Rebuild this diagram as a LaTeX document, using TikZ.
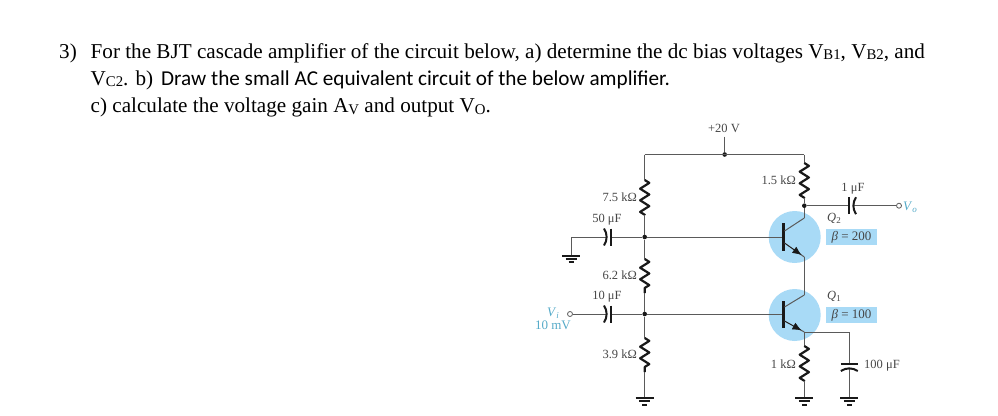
\documentclass[tikz,border=0pt]{standalone}
\usepackage{fontspec}
\setmainfont{Liberation Serif}
\newfontfamily\bodysans{Carlito}
\usetikzlibrary{arrows.meta,positioning,calc,decorations.pathmorphing}
\definecolor{wiregray}{RGB}{90,90,90}
\definecolor{labelgray}{RGB}{70,70,70}
\definecolor{partblack}{RGB}{25,25,25}
\definecolor{discblue}{RGB}{168,218,246}
\definecolor{signalblue}{RGB}{85,170,200}
\newcommand{\lowsub}[1]{\raisebox{-1.5pt}{\fontsize{14.8}{14.8}\selectfont #1}}
\tikzset{
    wire/.style={draw=wiregray, line width=1pt},
    resistor/.style={draw=partblack, line width=2.2pt, line join=round,
        decorate, decoration={zigzag, segment length=11.6pt, amplitude=4.6pt}},
    junction/.style={circle, fill=partblack, inner sep=0pt, minimum size=4.6pt},
    terminal/.style={circle, draw=wiregray, fill=white, line width=0.8pt, inner sep=0pt, minimum size=5pt},
    disc/.style={circle, fill=discblue, inner sep=0pt, minimum size=52pt},
    betabox/.style={fill=discblue, inner sep=0pt, minimum width=51pt, minimum height=16pt,
        text=labelgray, font=\fontsize{13}{14}\selectfont},
    partlabel/.style={text=labelgray, inner sep=0pt, font=\fontsize{12.5}{14}\selectfont},
    signallabel/.style={text=signalblue, inner sep=0pt, font=\fontsize{13}{14}\selectfont},
    bodyline/.style={anchor=base west, inner sep=0pt, text=black, font=\fontsize{21.15}{25}\selectfont},
    emitarrow/.style={draw=partblack, line width=0.6pt, -{Latex[length=9pt,width=7.5pt]}},
    ground/.pic={
        \draw[partblack, line width=2pt] (-9,0) -- (9,0);
        \draw[partblack, line width=2pt] (-5.5,3.4) -- (5.5,3.4);
        \draw[partblack, line width=2pt] (-2.5,6.6) -- (2.5,6.6);
    },
    capplates/.pic={
        \draw[partblack, line width=2pt] (0,-8.5) -- (0,8.5);
        \draw[partblack, line width=2pt] (-7,-8.5) .. controls (-3.5,-3) and (-3.5,3) .. (-7,8.5);
    },
}
\begin{document}
\begin{tikzpicture}[x=1pt, y=-1pt]
    \useasboundingbox (0,0) rectangle (998,415);

    % question text
    \node[bodyline] (qnum) at (59,58) {3)};
    \node[bodyline] (lineone) at (90.5,58) {For the BJT cascade amplifier of the circuit below, a) determine the dc bias voltages V\lowsub{B1}, V\lowsub{B2}, and};
    \node[bodyline] (linetwo) at (90.5,85) {V\lowsub{C2}. b)\hspace{8pt}{\bodysans\fontsize{21.2}{25}\selectfont Draw the small AC equivalent circuit of the below amplifier.}};
    \node[bodyline] (linethree) at (90.5,112.5) {c) calculate the voltage gain A\lowsub{V} and output V\lowsub{O}.};

    % transistor discs go under the wires
    \node[disc] (discQtwo) at (794.7,237) {};
    \node[disc] (discQone) at (794.7,315) {};

    % supply rail
    \coordinate (railL) at (644.7,154.5);
    \coordinate (railR) at (804.3,154.5);
    \coordinate (vccTop) at (724.7,136.5);
    \node[junction] (vcc) at (724.7,154.5) {};
    \node[partlabel] (vccLabel) at (724,128) {+20 V};
    \draw[wire] (vccTop) -- (vcc);
    \draw[wire] (railL) -- (railR);

    % base divider
    \coordinate (r75Top) at (644.7,180);
    \coordinate (r75Bot) at (644.7,215);
    \node[junction] (baseTwo) at (644.7,237) {};
    \coordinate (r62Top) at (644.7,259);
    \coordinate (r62Bot) at (644.7,293);
    \node[junction] (baseOne) at (644.7,314) {};
    \coordinate (r39Top) at (644.7,338);
    \coordinate (r39Bot) at (644.7,372);
    \coordinate (gndDiv) at (644.7,398);
    \draw[wire] (railL) -- (r75Top);
    \draw[resistor] (r75Top) -- (r75Bot);
    \draw[wire] (r75Bot) -- (baseTwo) -- (r62Top);
    \draw[resistor] (r62Top) -- (r62Bot);
    \draw[wire] (r62Bot) -- (baseOne) -- (r39Top);
    \draw[resistor] (r39Top) -- (r39Bot);
    \draw[wire] (r39Bot) -- (gndDiv);
    \pic at (gndDiv) {ground};
    \node[partlabel, anchor=east] (r75Label) at (637,197) {7.5 kΩ};
    \node[partlabel, anchor=east] (r62Label) at (637,275.5) {6.2 kΩ};
    \node[partlabel, anchor=east] (r39Label) at (637,354.5) {3.9 kΩ};

    % 50 uF bypass to ground
    \coordinate (gndBp) at (571,255.5);
    \coordinate (bpCorner) at (571,237);
    \coordinate (bpL) at (606.4,237);
    \coordinate (bpR) at (611,237);
    \draw[wire] (gndBp) -- (bpCorner) -- (bpL);
    \draw[wire] (bpR) -- (baseTwo);
    \pic at (bpR) {capplates};
    \pic at (gndBp) {ground};
    \node[partlabel] (bpLabel) at (607,220) {50 μF};

    % input
    \node[terminal] (vin) at (570,314) {};
    \coordinate (inL) at (606.4,314);
    \coordinate (inR) at (611,314);
    \draw[wire] (vin) -- (inL);
    \draw[wire] (inR) -- (baseOne);
    \pic at (inR) {capplates};
    \node[partlabel] (inLabel) at (607,297) {10 μF};
    \node[signallabel] (viLabel) at (553,313) {\textit{V}\raisebox{-2pt}{\fontsize{9}{9}\selectfont\textit{i}}};
    \node[signallabel] (mvLabel) at (553,325) {10 mV};

    % Q2
    \coordinate (Q2b) at (783.5,237);
    \coordinate (Q2c) at (804.3,218);
    \coordinate (Q2cIn) at (784.5,231);
    \coordinate (Q2eIn) at (784.5,243);
    \coordinate (Q2tip) at (801.5,255);
    \coordinate (Q2e) at (804.3,257);
    \draw[wire] (baseTwo) -- (Q2b);
    \draw[partblack, line width=3.4pt] (783.5,223) -- (783.5,251);
    \draw[wire] (Q2cIn) -- (Q2c);
    \draw[wire] (Q2eIn) -- (Q2e);
    \draw[emitarrow] (Q2eIn) -- (Q2tip);
    \node[partlabel] (Q2Label) at (834,218) {\textit{Q}\raisebox{-2pt}{\fontsize{9}{9}\selectfont 2}};
    \node[betabox] (Q2box) at (851.5,237) {\textit{β} = 200};

    % Q1
    \coordinate (Q1b) at (783.5,314);
    \coordinate (Q1c) at (804.3,295);
    \coordinate (Q1cIn) at (784.5,307);
    \coordinate (Q1eIn) at (784.5,321);
    \coordinate (Q1tip) at (801.5,330.4);
    \coordinate (Q1e) at (804.3,332);
    \draw[wire] (baseOne) -- (Q1b);
    \draw[partblack, line width=3.4pt] (783.5,301) -- (783.5,328);
    \draw[wire] (Q1cIn) -- (Q1c);
    \draw[wire] (Q1eIn) -- (Q1e);
    \draw[emitarrow] (Q1eIn) -- (Q1tip);
    \node[partlabel] (Q1Label) at (834,296) {\textit{Q}\raisebox{-2pt}{\fontsize{9}{9}\selectfont 1}};
    \node[betabox] (Q1box) at (851.5,315) {\textit{β} = 100};
    \draw[wire] (Q2e) -- (Q1c);

    % collector load and output
    \coordinate (r15Top) at (804.3,163);
    \coordinate (r15Bot) at (804.3,198);
    \node[junction] (collector) at (804.3,205.7) {};
    \coordinate (outL) at (849,205.7);
    \coordinate (outR) at (853.6,205.7);
    \node[terminal] (vout) at (899,205.7) {};
    \draw[wire] (railR) -- (r15Top);
    \draw[resistor] (r15Top) -- (r15Bot);
    \draw[wire] (r15Bot) -- (collector) -- (Q2c);
    \draw[wire] (collector) -- (outL);
    \draw[wire] (outR) -- (vout);
    \pic[rotate=180] at (outL) {capplates};
    \node[partlabel, anchor=east] (r15Label) at (796,180) {1.5 kΩ};
    \node[partlabel] (outLabel) at (853,189) {1 μF};
    \node[signallabel] (voLabel) at (910,207) {\textit{V}\raisebox{-2pt}{\fontsize{9}{9}\selectfont\textit{o}}};

    % emitter resistor and bypass
    \coordinate (r1Top) at (804.3,346);
    \coordinate (r1Bot) at (804.3,381);
    \coordinate (gndEm) at (804.3,398);
    \coordinate (byCorner) at (849.3,332);
    \coordinate (byTop) at (849.3,364);
    \coordinate (byBot) at (849.3,368.6);
    \coordinate (gndBy) at (849.3,398);
    \draw[wire] (Q1e) -- (r1Top);
    \draw[resistor] (r1Top) -- (r1Bot);
    \draw[wire] (r1Bot) -- (gndEm);
    \draw[wire] (Q1e) -- (byCorner) -- (byTop);
    \draw[wire] (byBot) -- (gndBy);
    \pic[rotate=90] at (byTop) {capplates};
    \pic at (gndEm) {ground};
    \pic at (gndBy) {ground};
    \node[partlabel, anchor=east] (r1Label) at (796,364) {1 kΩ};
    \node[partlabel, anchor=west] (byLabel) at (864,366) {100 μF};
\end{tikzpicture}
\end{document}
